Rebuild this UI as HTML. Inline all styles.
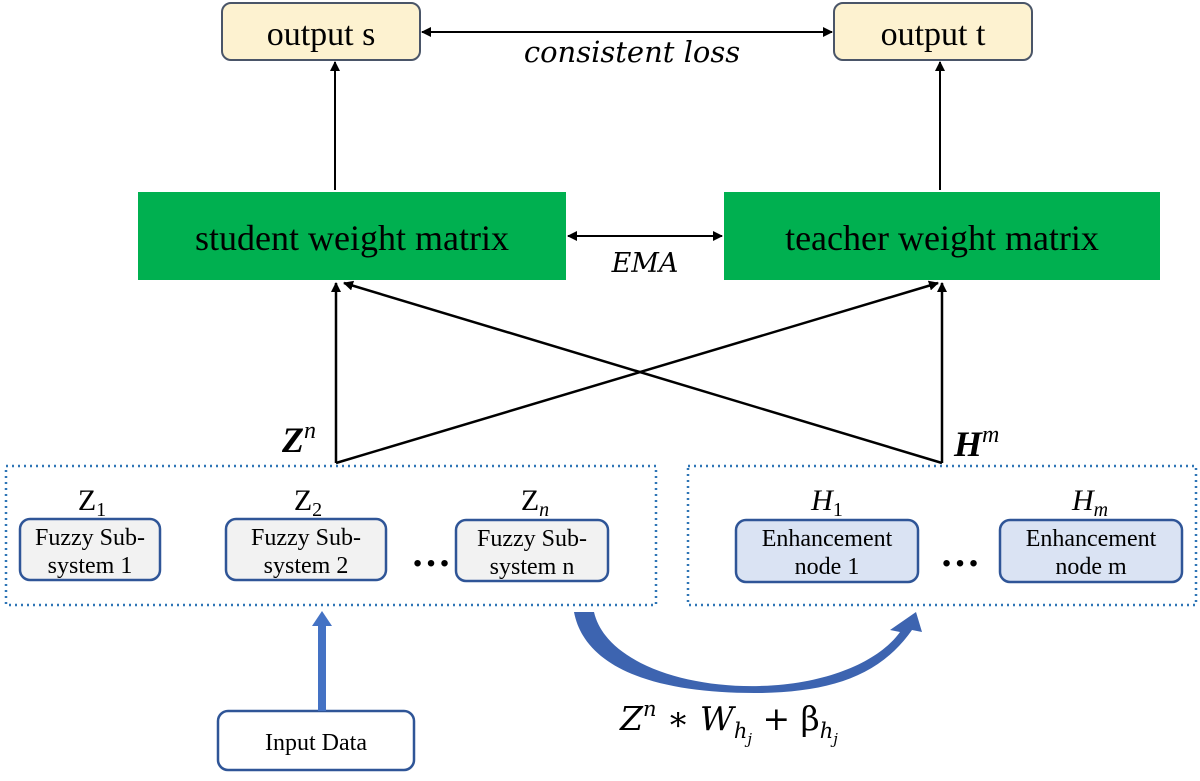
<!DOCTYPE html>
<html><head><style>
body{margin:0;background:#fff}
</style></head><body>
<svg width="1200" height="776" viewBox="0 0 1200 776" xmlns="http://www.w3.org/2000/svg" font-family="Liberation Serif, serif">
<defs>
<marker id="a" markerWidth="10" markerHeight="10" refX="9" refY="5" orient="auto" markerUnits="userSpaceOnUse"><path d="M0,0 L10,5 L0,10 z" fill="#000"/></marker>
<marker id="b" markerWidth="10" markerHeight="10" refX="1" refY="5" orient="auto" markerUnits="userSpaceOnUse"><path d="M10,0 L0,5 L10,10 z" fill="#000"/></marker>
</defs>
<rect x="222" y="3" width="198" height="57" rx="9" fill="#fdf2d0" stroke="#4a5568" stroke-width="2"/>
<text x="321" y="45" font-size="34" text-anchor="middle">output s</text>
<rect x="834" y="3" width="198" height="57" rx="9" fill="#fdf2d0" stroke="#4a5568" stroke-width="2"/>
<text x="933" y="45" font-size="34" text-anchor="middle">output t</text>
<line x1="422" y1="32" x2="832" y2="32" stroke="#000" stroke-width="2" marker-start="url(#b)" marker-end="url(#a)"/>
<text x="632" y="62" font-size="29" font-style="italic" text-anchor="middle" style="font-family:'DejaVu Serif',serif">consistent loss</text>
<rect x="138" y="192" width="428" height="88" fill="#00b050"/>
<text x="352" y="250" font-size="36" text-anchor="middle">student weight matrix</text>
<rect x="724" y="192" width="436" height="88" fill="#00b050"/>
<text x="942" y="250" font-size="36" text-anchor="middle">teacher weight matrix</text>
<line x1="568" y1="236" x2="722" y2="236" stroke="#000" stroke-width="2" marker-start="url(#b)" marker-end="url(#a)"/>
<text x="645" y="272" font-size="27" font-style="italic" text-anchor="middle" style="font-family:'DejaVu Serif',serif">EMA</text>
<line x1="335" y1="190" x2="335" y2="62" stroke="#000" stroke-width="2" marker-end="url(#a)"/>
<line x1="940" y1="190" x2="940" y2="62" stroke="#000" stroke-width="2" marker-end="url(#a)"/>
<g stroke="#000" stroke-width="2.5" fill="none">
<line x1="336" y1="463" x2="336" y2="283" marker-end="url(#a)"/>
<line x1="336" y1="463" x2="938" y2="283" marker-end="url(#a)"/>
<line x1="942" y1="463" x2="942" y2="283" marker-end="url(#a)"/>
<line x1="942" y1="463" x2="344" y2="283" marker-end="url(#a)"/>
</g>
<text x="282" y="452" font-size="36" font-weight="bold" font-style="italic">Z<tspan font-size="24" dy="-14" font-weight="normal">n</tspan></text>
<text x="954" y="456" font-size="36" font-weight="bold" font-style="italic">H<tspan font-size="24" dy="-14" font-weight="normal">m</tspan></text>
<rect x="6" y="466" width="650" height="139" fill="none" stroke="#2e75b6" stroke-width="2.5" stroke-dasharray="2,4"/>
<rect x="688" y="466" width="508" height="139" fill="none" stroke="#2e75b6" stroke-width="2.5" stroke-dasharray="2,4"/>
<g font-size="24" text-anchor="middle">
<text x="92" y="510" font-size="30">Z<tspan font-size="20" dy="6">1</tspan></text>
<text x="308" y="510" font-size="30">Z<tspan font-size="20" dy="6">2</tspan></text>
<text x="535" y="510" font-size="30">Z<tspan font-size="20" dy="6" font-style="italic">n</tspan></text>
<rect x="20" y="519" width="140" height="61" rx="10" fill="#f2f2f2" stroke="#2f5597" stroke-width="2.5"/>
<text x="90" y="545">Fuzzy Sub-</text><text x="90" y="573">system 1</text>
<rect x="226" y="519" width="160" height="61" rx="10" fill="#f2f2f2" stroke="#2f5597" stroke-width="2.5"/>
<text x="306" y="545">Fuzzy Sub-</text><text x="306" y="573">system 2</text>
<rect x="456" y="520" width="152" height="61" rx="10" fill="#f2f2f2" stroke="#2f5597" stroke-width="2.5"/>
<text x="532" y="546">Fuzzy Sub-</text><text x="532" y="574">system n</text>
<text x="431" y="566" font-size="40" font-weight="bold">…</text>
<text x="827" y="510" font-size="30" font-style="italic">H<tspan font-size="20" dy="6" font-style="normal">1</tspan></text>
<text x="1090" y="510" font-size="30" font-style="italic">H<tspan font-size="20" dy="6">m</tspan></text>
<rect x="736" y="520" width="182" height="62" rx="10" fill="#dae3f3" stroke="#2f5597" stroke-width="2.5"/>
<text x="827" y="546">Enhancement</text><text x="827" y="574">node 1</text>
<rect x="1000" y="520" width="182" height="62" rx="10" fill="#dae3f3" stroke="#2f5597" stroke-width="2.5"/>
<text x="1091" y="546">Enhancement</text><text x="1091" y="574">node m</text>
<text x="960" y="566" font-size="40" font-weight="bold">…</text>
<rect x="218" y="711" width="196" height="59" rx="10" fill="#fff" stroke="#2f5597" stroke-width="2.5"/>
<text x="316" y="750">Input Data</text>
</g>
<rect x="318" y="624" width="8" height="87" fill="#4472c4"/>
<path d="M312,626 L322,611 L332,626 z" fill="#4472c4"/>
<path d="M574,612 L594,612 C605,660 680,688 760,686 C830,684 880,660 900,632 L890,630 L916,612 L922,632 L912,630 C880,676 830,692 760,693 C660,694 585,670 574,612 z" fill="#3d64b0"/>
<text x="620" y="730" font-size="33" font-style="italic" style="font-family:'DejaVu Serif',serif">Z<tspan font-size="21" dy="-14">n</tspan><tspan dy="14" font-style="normal"> ∗ </tspan>W<tspan font-size="21" dy="8">h</tspan><tspan font-size="15" dy="6">j</tspan><tspan dy="-14" font-style="normal"> + β</tspan><tspan font-size="21" dy="8">h</tspan><tspan font-size="15" dy="6">j</tspan></text>
</svg>
</body></html>
